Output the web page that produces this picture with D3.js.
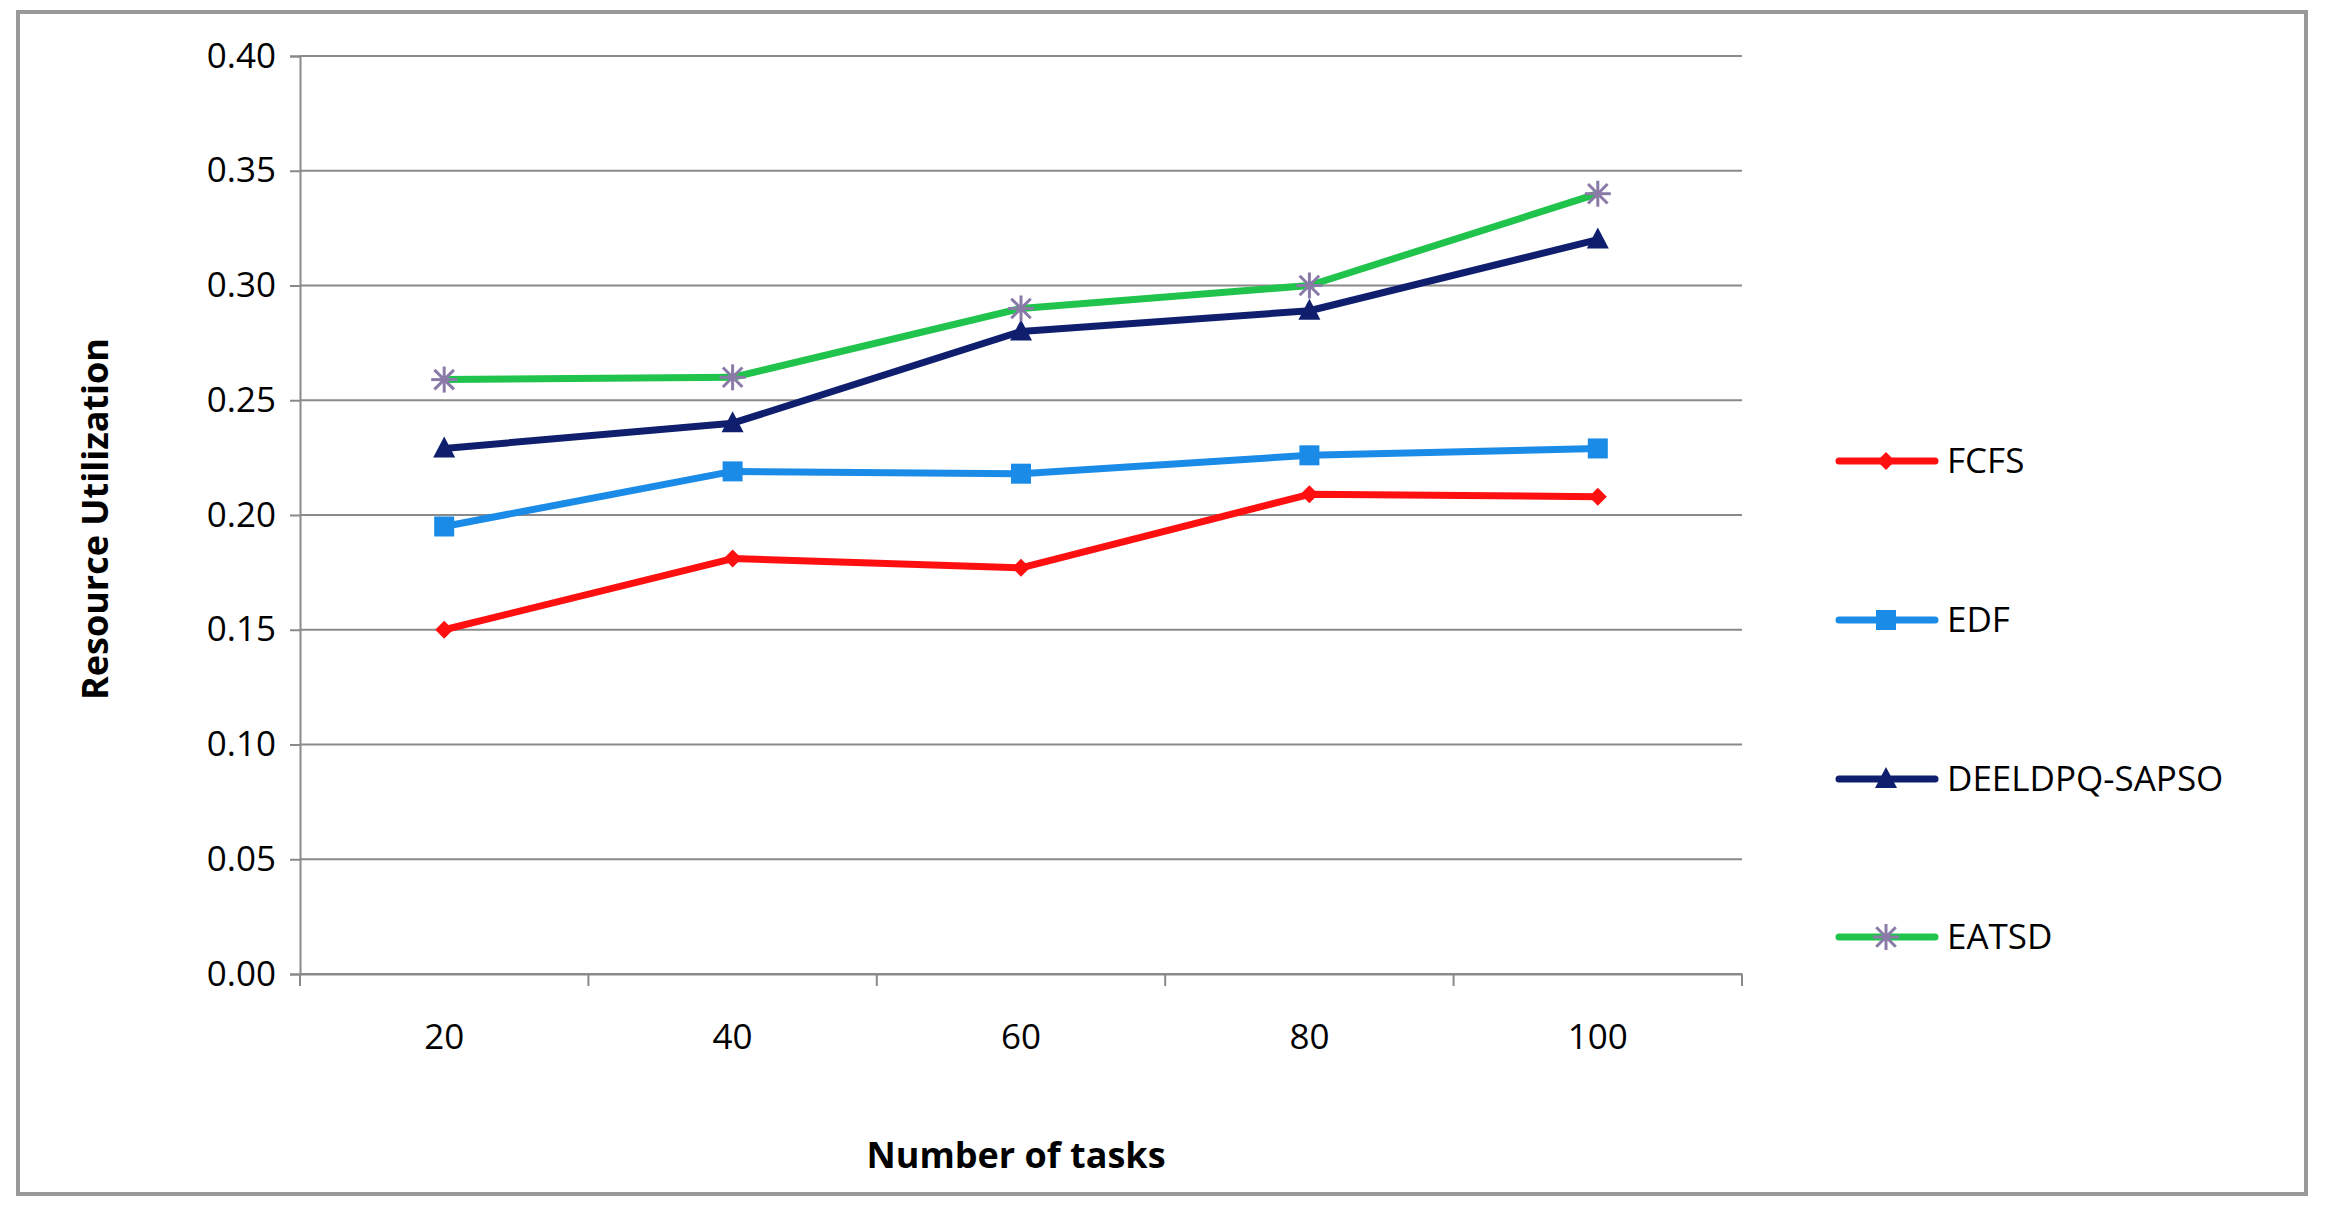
<!DOCTYPE html>
<html>
<head>
<meta charset="utf-8">
<script src="https://cdn.jsdelivr.net/npm/d3@7"></script>
<style>
  body { margin: 0; background: #fff; }
  text { font-family: "Open Sans", "Liberation Sans", sans-serif; }
</style>
</head>
<body>
<svg id="chart" width="2325" height="1211"></svg>
<script>
const tasks = [20, 40, 60, 80, 100];
const fcfs = [0.150, 0.181, 0.177, 0.209, 0.208];
const edf = [0.195, 0.219, 0.218, 0.226, 0.229];
const deeldpq = [0.229, 0.240, 0.280, 0.289, 0.320];
const eatsd = [0.259, 0.260, 0.290, 0.300, 0.340];
const yTicks = [0, 0.05, 0.10, 0.15, 0.20, 0.25, 0.30, 0.35, 0.40];

const series = [
  { name: "FCFS", values: fcfs, color: "#ff1010", marker: "diamond" },
  { name: "EDF", values: edf, color: "#1a8be6", marker: "square" },
  { name: "DEELDPQ-SAPSO", values: deeldpq, color: "#0f1f6e", marker: "triangle" },
  { name: "EATSD", values: eatsd, color: "#20c44c", marker: "star" }
];

const svg = d3.select("#chart");
const plotLeft = 300, plotRight = 1742, plotTop = 56, plotBottom = 974;

svg.append("rect").attr("x", 18).attr("y", 12).attr("width", 2288).attr("height", 1182)
  .attr("fill", "#fff").attr("stroke", "#999").attr("stroke-width", 4);

const x = d3.scaleBand().domain(tasks).range([plotLeft, plotRight]);
const y = d3.scaleLinear().domain([0, 0.4]).range([plotBottom, plotTop]);

// grid
svg.append("g").selectAll("line").data(yTicks).join("line")
  .attr("x1", plotLeft).attr("x2", plotRight)
  .attr("y1", d => y(d)).attr("y2", d => y(d))
  .attr("stroke", "#8a8a8a").attr("stroke-width", 2);

const yAxis = svg.append("g").attr("transform", `translate(${plotLeft},0)`)
  .call(d3.axisLeft(y).tickValues(yTicks).tickFormat(d3.format(".2f")).tickSize(10).tickPadding(14));
yAxis.select(".domain").attr("stroke", "#8a8a8a").attr("stroke-width", 2);
yAxis.selectAll(".tick line").attr("stroke", "#8a8a8a").attr("stroke-width", 2);
yAxis.selectAll("text").attr("font-size", 35).attr("fill", "#000");

const xAxis = svg.append("g").attr("transform", `translate(0,${plotBottom})`)
  .call(d3.axisBottom(x).tickSize(0).tickPadding(50));
xAxis.select(".domain").attr("stroke", "#8a8a8a").attr("stroke-width", 2);
xAxis.selectAll("text").attr("font-size", 35).attr("fill", "#000");
svg.append("g").selectAll("line").data(d3.range(tasks.length + 1)).join("line")
  .attr("x1", i => plotLeft + i * x.bandwidth()).attr("x2", i => plotLeft + i * x.bandwidth())
  .attr("y1", plotBottom).attr("y2", plotBottom + 12)
  .attr("stroke", "#8a8a8a").attr("stroke-width", 2);

svg.append("text").attr("x", 1016).attr("y", 1168).attr("text-anchor", "middle")
  .attr("font-size", 36).attr("font-weight", "bold").text("Number of tasks");
svg.append("text").attr("transform", "translate(108,519) rotate(-90)").attr("text-anchor", "middle")
  .attr("font-size", 36).attr("font-weight", "bold").text("Resource Utilization");

const cx = d => x(d) + x.bandwidth() / 2;
const line = d3.line().x((v, i) => cx(tasks[i])).y(v => y(v));

function marker(g, type, color, px, py) {
  if (type === "diamond") {
    g.append("path").attr("d", `M${px},${py - 9}L${px + 9},${py}L${px},${py + 9}L${px - 9},${py}Z`).attr("fill", color);
  } else if (type === "square") {
    g.append("rect").attr("x", px - 10).attr("y", py - 10).attr("width", 20).attr("height", 20).attr("fill", color);
  } else if (type === "triangle") {
    g.append("path").attr("d", `M${px},${py - 12}L${px + 11},${py + 9}L${px - 11},${py + 9}Z`).attr("fill", color);
  } else {
    const s = 13, c = "#8a7aa8";
    [[-s, 0, s, 0], [0, -s, 0, s], [-s * 0.75, -s * 0.75, s * 0.75, s * 0.75], [-s * 0.75, s * 0.75, s * 0.75, -s * 0.75]]
      .forEach(l => g.append("line").attr("x1", px + l[0]).attr("y1", py + l[1])
        .attr("x2", px + l[2]).attr("y2", py + l[3]).attr("stroke", c).attr("stroke-width", 3));
  }
}

const legendY = [461, 620, 779, 937];
series.forEach((s, k) => {
  const g = svg.append("g");
  g.append("path").attr("d", line(s.values)).attr("fill", "none")
    .attr("stroke", s.color).attr("stroke-width", 7).attr("stroke-linejoin", "round");
  s.values.forEach((v, i) => marker(g, s.marker, s.color, cx(tasks[i]), y(v)));
  const ly = legendY[k];
  g.append("line").attr("x1", 1839).attr("x2", 1935).attr("y1", ly).attr("y2", ly)
    .attr("stroke", s.color).attr("stroke-width", 7).attr("stroke-linecap", "round");
  marker(g, s.marker, s.color, 1886, ly);
  g.append("text").attr("x", 1947).attr("y", ly + 12).attr("font-size", 35).text(s.name);
});
</script>
</body>
</html>
